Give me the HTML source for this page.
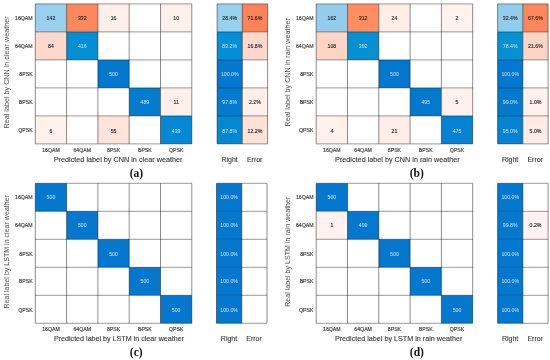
<!DOCTYPE html>
<html><head><meta charset="utf-8"><style>
html,body{margin:0;padding:0;background:#fff;}
body{width:550px;height:360px;overflow:hidden;}
svg{display:block;filter:blur(0.3px);}
text{font-family:"Liberation Sans",Arial,sans-serif;}
.v{font-size:5.2px;text-anchor:middle;fill:#262626;stroke:#262626;stroke-width:0.12px;}
.w{fill:#cde6fa;stroke:none;}
.ty{font-size:5.2px;text-anchor:end;fill:#444;stroke:#444;stroke-width:0.18px;}
.tx{font-size:5.2px;text-anchor:middle;fill:#444;stroke:#444;stroke-width:0.18px;}
.xl{font-size:7.2px;fill:#3a3a3a;stroke:#3a3a3a;stroke-width:0.12px;}
.yl{text-anchor:middle;}
.rl{fill:#505050;stroke:none;}
.re{font-size:7.0px;}
.tag{font-family:"Liberation Serif",serif;font-weight:bold;font-size:11.5px;text-anchor:middle;fill:#111;}
.gv{stroke:rgba(0,0,0,0.45);stroke-width:1;}
.gh{stroke:rgba(0,0,0,0.4);stroke-width:1;}
</style></head><body>
<svg width="550" height="360" viewBox="0 0 550 360">
<rect width="550" height="360" fill="#fff"/>
<rect x="35.30" y="3.90" width="31.30" height="28.00" fill="rgb(152,208,237)"/>
<rect x="66.60" y="3.90" width="31.30" height="28.00" fill="rgb(253,136,94)"/>
<rect x="97.90" y="3.90" width="31.30" height="28.00" fill="rgb(255,239,234)"/>
<rect x="160.50" y="3.90" width="31.30" height="28.00" fill="rgb(255,240,236)"/>
<rect x="35.30" y="31.90" width="31.30" height="28.00" fill="rgb(254,217,203)"/>
<rect x="66.60" y="31.90" width="31.30" height="28.00" fill="rgb(3,143,213)"/>
<rect x="97.90" y="59.90" width="31.30" height="28.00" fill="rgb(3,120,206)"/>
<rect x="129.20" y="87.90" width="31.30" height="28.00" fill="rgb(3,123,207)"/>
<rect x="160.50" y="87.90" width="31.30" height="28.00" fill="rgb(255,240,236)"/>
<rect x="35.30" y="115.90" width="31.30" height="28.00" fill="rgb(255,241,237)"/>
<rect x="97.90" y="115.90" width="31.30" height="28.00" fill="rgb(254,228,218)"/>
<rect x="160.50" y="115.90" width="31.30" height="28.00" fill="rgb(5,136,211)"/>
<rect x="217.10" y="3.90" width="25.25" height="28.00" fill="rgb(152,208,237)"/>
<rect x="242.35" y="3.90" width="25.25" height="28.00" fill="rgb(252,130,87)"/>
<rect x="217.10" y="31.90" width="25.25" height="28.00" fill="rgb(3,143,213)"/>
<rect x="242.35" y="31.90" width="25.25" height="28.00" fill="rgb(254,217,203)"/>
<rect x="217.10" y="59.90" width="25.25" height="28.00" fill="rgb(3,120,206)"/>
<rect x="217.10" y="87.90" width="25.25" height="28.00" fill="rgb(3,123,207)"/>
<rect x="242.35" y="87.90" width="25.25" height="28.00" fill="rgb(255,240,236)"/>
<rect x="217.10" y="115.90" width="25.25" height="28.00" fill="rgb(5,136,211)"/>
<rect x="242.35" y="115.90" width="25.25" height="28.00" fill="rgb(254,226,215)"/>
<line x1="35.30" y1="3.90" x2="35.30" y2="143.90" class="gv"/>
<line x1="35.30" y1="3.90" x2="191.80" y2="3.90" class="gh"/>
<line x1="66.60" y1="3.90" x2="66.60" y2="143.90" class="gv"/>
<line x1="35.30" y1="31.90" x2="191.80" y2="31.90" class="gh"/>
<line x1="97.90" y1="3.90" x2="97.90" y2="143.90" class="gv"/>
<line x1="35.30" y1="59.90" x2="191.80" y2="59.90" class="gh"/>
<line x1="129.20" y1="3.90" x2="129.20" y2="143.90" class="gv"/>
<line x1="35.30" y1="87.90" x2="191.80" y2="87.90" class="gh"/>
<line x1="160.50" y1="3.90" x2="160.50" y2="143.90" class="gv"/>
<line x1="35.30" y1="115.90" x2="191.80" y2="115.90" class="gh"/>
<line x1="191.80" y1="3.90" x2="191.80" y2="143.90" class="gv"/>
<line x1="35.30" y1="143.90" x2="191.80" y2="143.90" class="gh"/>
<line x1="217.10" y1="3.90" x2="217.10" y2="143.90" class="gv"/>
<line x1="242.35" y1="3.90" x2="242.35" y2="143.90" class="gv"/>
<line x1="267.60" y1="3.90" x2="267.60" y2="143.90" class="gv"/>
<line x1="217.10" y1="3.90" x2="267.60" y2="3.90" class="gh"/>
<line x1="217.10" y1="31.90" x2="267.60" y2="31.90" class="gh"/>
<line x1="217.10" y1="59.90" x2="267.60" y2="59.90" class="gh"/>
<line x1="217.10" y1="87.90" x2="267.60" y2="87.90" class="gh"/>
<line x1="217.10" y1="115.90" x2="267.60" y2="115.90" class="gh"/>
<line x1="217.10" y1="143.90" x2="267.60" y2="143.90" class="gh"/>
<text x="50.95" y="19.95" class="v">142</text>
<text x="82.25" y="19.95" class="v">332</text>
<text x="113.55" y="19.95" class="v">16</text>
<text x="176.15" y="19.95" class="v">10</text>
<text x="50.95" y="47.70" class="v">84</text>
<text x="82.25" y="47.70" class="v w">416</text>
<text x="113.55" y="76.30" class="v w">500</text>
<text x="144.85" y="104.05" class="v w">489</text>
<text x="176.15" y="104.05" class="v">11</text>
<text x="50.95" y="132.55" class="v">6</text>
<text x="113.55" y="132.55" class="v">55</text>
<text x="176.15" y="132.55" class="v w">439</text>
<text x="229.72" y="19.95" class="v">28.4%</text>
<text x="254.97" y="19.95" class="v">71.6%</text>
<text x="229.72" y="47.70" class="v w">83.2%</text>
<text x="254.97" y="47.70" class="v">16.8%</text>
<text x="229.72" y="76.30" class="v w">100.0%</text>
<text x="229.72" y="104.05" class="v w">97.8%</text>
<text x="254.97" y="104.05" class="v">2.2%</text>
<text x="229.72" y="132.55" class="v w">87.8%</text>
<text x="254.97" y="132.55" class="v">12.2%</text>
<text x="32.60" y="19.95" class="ty">16QAM</text>
<text x="50.95" y="151.80" class="tx">16QAM</text>
<text x="32.60" y="47.80" class="ty">64QAM</text>
<text x="82.25" y="151.80" class="tx">64QAM</text>
<text x="32.60" y="76.20" class="ty">8PSK</text>
<text x="113.55" y="151.80" class="tx">8PSK</text>
<text x="32.60" y="104.05" class="ty">BPSK</text>
<text x="144.85" y="151.80" class="tx">BPSK</text>
<text x="32.60" y="132.25" class="ty">QPSK</text>
<text x="176.15" y="151.80" class="tx">QPSK</text>
<text x="53.70" y="161.70" class="xl" style="font-size:7.270px">Predicted label by CNN in clear weather</text>
<text transform="translate(8.60 72.45) rotate(-90)" class="xl yl rl" style="font-size:7.216px">Real label by CNN in clear weather</text>
<text x="229.62" y="162.00" class="xl yl re">Right</text>
<text x="254.67" y="162.00" class="xl yl re">Error</text>
<text x="136.40" y="177.40" class="tag">(a)</text>
<rect x="316.20" y="3.90" width="31.30" height="28.00" fill="rgb(148,205,235)"/>
<rect x="347.50" y="3.90" width="31.30" height="28.00" fill="rgb(254,141,98)"/>
<rect x="378.80" y="3.90" width="31.30" height="28.00" fill="rgb(255,237,230)"/>
<rect x="441.40" y="3.90" width="31.30" height="28.00" fill="rgb(255,242,239)"/>
<rect x="316.20" y="31.90" width="31.30" height="28.00" fill="rgb(254,212,197)"/>
<rect x="347.50" y="31.90" width="31.30" height="28.00" fill="rgb(5,144,209)"/>
<rect x="378.80" y="59.90" width="31.30" height="28.00" fill="rgb(3,120,206)"/>
<rect x="410.10" y="87.90" width="31.30" height="28.00" fill="rgb(3,121,206)"/>
<rect x="441.40" y="87.90" width="31.30" height="28.00" fill="rgb(255,241,238)"/>
<rect x="316.20" y="115.90" width="31.30" height="28.00" fill="rgb(255,242,238)"/>
<rect x="378.80" y="115.90" width="31.30" height="28.00" fill="rgb(255,237,232)"/>
<rect x="441.40" y="115.90" width="31.30" height="28.00" fill="rgb(5,131,210)"/>
<rect x="497.60" y="3.90" width="25.25" height="28.00" fill="rgb(148,205,235)"/>
<rect x="522.85" y="3.90" width="25.25" height="28.00" fill="rgb(253,135,92)"/>
<rect x="497.60" y="31.90" width="25.25" height="28.00" fill="rgb(5,144,209)"/>
<rect x="522.85" y="31.90" width="25.25" height="28.00" fill="rgb(254,212,197)"/>
<rect x="497.60" y="59.90" width="25.25" height="28.00" fill="rgb(3,120,206)"/>
<rect x="497.60" y="87.90" width="25.25" height="28.00" fill="rgb(3,121,206)"/>
<rect x="522.85" y="87.90" width="25.25" height="28.00" fill="rgb(255,241,238)"/>
<rect x="497.60" y="115.90" width="25.25" height="28.00" fill="rgb(5,131,210)"/>
<rect x="522.85" y="115.90" width="25.25" height="28.00" fill="rgb(255,236,230)"/>
<line x1="316.20" y1="3.90" x2="316.20" y2="143.90" class="gv"/>
<line x1="316.20" y1="3.90" x2="472.70" y2="3.90" class="gh"/>
<line x1="347.50" y1="3.90" x2="347.50" y2="143.90" class="gv"/>
<line x1="316.20" y1="31.90" x2="472.70" y2="31.90" class="gh"/>
<line x1="378.80" y1="3.90" x2="378.80" y2="143.90" class="gv"/>
<line x1="316.20" y1="59.90" x2="472.70" y2="59.90" class="gh"/>
<line x1="410.10" y1="3.90" x2="410.10" y2="143.90" class="gv"/>
<line x1="316.20" y1="87.90" x2="472.70" y2="87.90" class="gh"/>
<line x1="441.40" y1="3.90" x2="441.40" y2="143.90" class="gv"/>
<line x1="316.20" y1="115.90" x2="472.70" y2="115.90" class="gh"/>
<line x1="472.70" y1="3.90" x2="472.70" y2="143.90" class="gv"/>
<line x1="316.20" y1="143.90" x2="472.70" y2="143.90" class="gh"/>
<line x1="497.60" y1="3.90" x2="497.60" y2="143.90" class="gv"/>
<line x1="522.85" y1="3.90" x2="522.85" y2="143.90" class="gv"/>
<line x1="548.10" y1="3.90" x2="548.10" y2="143.90" class="gv"/>
<line x1="497.60" y1="3.90" x2="548.10" y2="3.90" class="gh"/>
<line x1="497.60" y1="31.90" x2="548.10" y2="31.90" class="gh"/>
<line x1="497.60" y1="59.90" x2="548.10" y2="59.90" class="gh"/>
<line x1="497.60" y1="87.90" x2="548.10" y2="87.90" class="gh"/>
<line x1="497.60" y1="115.90" x2="548.10" y2="115.90" class="gh"/>
<line x1="497.60" y1="143.90" x2="548.10" y2="143.90" class="gh"/>
<text x="331.85" y="19.95" class="v">162</text>
<text x="363.15" y="19.95" class="v">312</text>
<text x="394.45" y="19.95" class="v">24</text>
<text x="457.05" y="19.95" class="v">2</text>
<text x="331.85" y="47.70" class="v">108</text>
<text x="363.15" y="47.70" class="v w">392</text>
<text x="394.45" y="76.30" class="v w">500</text>
<text x="425.75" y="104.05" class="v w">495</text>
<text x="457.05" y="104.05" class="v">5</text>
<text x="331.85" y="132.55" class="v">4</text>
<text x="394.45" y="132.55" class="v">21</text>
<text x="457.05" y="132.55" class="v w">475</text>
<text x="510.23" y="19.95" class="v">32.4%</text>
<text x="535.48" y="19.95" class="v">67.6%</text>
<text x="510.23" y="47.70" class="v w">78.4%</text>
<text x="535.48" y="47.70" class="v">21.6%</text>
<text x="510.23" y="76.30" class="v w">100.0%</text>
<text x="510.23" y="104.05" class="v w">99.0%</text>
<text x="535.48" y="104.05" class="v">1.0%</text>
<text x="510.23" y="132.55" class="v w">95.0%</text>
<text x="535.48" y="132.55" class="v">5.0%</text>
<text x="313.50" y="19.95" class="ty">16QAM</text>
<text x="331.85" y="151.80" class="tx">16QAM</text>
<text x="313.50" y="47.80" class="ty">64QAM</text>
<text x="363.15" y="151.80" class="tx">64QAM</text>
<text x="313.50" y="76.20" class="ty">8PSK</text>
<text x="394.45" y="151.80" class="tx">8PSK</text>
<text x="313.50" y="104.05" class="ty">BPSK</text>
<text x="425.75" y="151.80" class="tx">BPSK</text>
<text x="313.50" y="132.25" class="ty">QPSK</text>
<text x="457.05" y="151.80" class="tx">QPSK</text>
<text x="335.10" y="161.70" class="xl" style="font-size:7.243px">Predicted label by CNN in rain weather</text>
<text transform="translate(289.60 72.25) rotate(-90)" class="xl yl rl" style="font-size:7.216px">Real label by CNN in rain weather</text>
<text x="510.12" y="162.00" class="xl yl re">Right</text>
<text x="535.18" y="162.00" class="xl yl re">Error</text>
<text x="416.75" y="177.40" class="tag">(b)</text>
<rect x="35.30" y="183.30" width="31.30" height="28.00" fill="rgb(3,120,206)"/>
<rect x="66.60" y="211.30" width="31.30" height="28.00" fill="rgb(3,120,206)"/>
<rect x="97.90" y="239.30" width="31.30" height="28.00" fill="rgb(3,120,206)"/>
<rect x="129.20" y="267.30" width="31.30" height="28.00" fill="rgb(3,120,206)"/>
<rect x="160.50" y="295.30" width="31.30" height="28.00" fill="rgb(3,120,206)"/>
<rect x="216.50" y="183.30" width="25.25" height="28.00" fill="rgb(3,120,206)"/>
<rect x="216.50" y="211.30" width="25.25" height="28.00" fill="rgb(3,120,206)"/>
<rect x="216.50" y="239.30" width="25.25" height="28.00" fill="rgb(3,120,206)"/>
<rect x="216.50" y="267.30" width="25.25" height="28.00" fill="rgb(3,120,206)"/>
<rect x="216.50" y="295.30" width="25.25" height="28.00" fill="rgb(3,120,206)"/>
<line x1="35.30" y1="183.30" x2="35.30" y2="323.30" class="gv"/>
<line x1="35.30" y1="183.30" x2="191.80" y2="183.30" class="gh"/>
<line x1="66.60" y1="183.30" x2="66.60" y2="323.30" class="gv"/>
<line x1="35.30" y1="211.30" x2="191.80" y2="211.30" class="gh"/>
<line x1="97.90" y1="183.30" x2="97.90" y2="323.30" class="gv"/>
<line x1="35.30" y1="239.30" x2="191.80" y2="239.30" class="gh"/>
<line x1="129.20" y1="183.30" x2="129.20" y2="323.30" class="gv"/>
<line x1="35.30" y1="267.30" x2="191.80" y2="267.30" class="gh"/>
<line x1="160.50" y1="183.30" x2="160.50" y2="323.30" class="gv"/>
<line x1="35.30" y1="295.30" x2="191.80" y2="295.30" class="gh"/>
<line x1="191.80" y1="183.30" x2="191.80" y2="323.30" class="gv"/>
<line x1="35.30" y1="323.30" x2="191.80" y2="323.30" class="gh"/>
<line x1="216.50" y1="183.30" x2="216.50" y2="323.30" class="gv"/>
<line x1="241.75" y1="183.30" x2="241.75" y2="323.30" class="gv"/>
<line x1="267.00" y1="183.30" x2="267.00" y2="323.30" class="gv"/>
<line x1="216.50" y1="183.30" x2="267.00" y2="183.30" class="gh"/>
<line x1="216.50" y1="211.30" x2="267.00" y2="211.30" class="gh"/>
<line x1="216.50" y1="239.30" x2="267.00" y2="239.30" class="gh"/>
<line x1="216.50" y1="267.30" x2="267.00" y2="267.30" class="gh"/>
<line x1="216.50" y1="295.30" x2="267.00" y2="295.30" class="gh"/>
<line x1="216.50" y1="323.30" x2="267.00" y2="323.30" class="gh"/>
<text x="50.95" y="199.35" class="v w">500</text>
<text x="82.25" y="227.10" class="v w">500</text>
<text x="113.55" y="255.70" class="v w">500</text>
<text x="144.85" y="283.45" class="v w">500</text>
<text x="176.15" y="311.95" class="v w">500</text>
<text x="229.12" y="199.35" class="v w">100.0%</text>
<text x="229.12" y="227.10" class="v w">100.0%</text>
<text x="229.12" y="255.70" class="v w">100.0%</text>
<text x="229.12" y="283.45" class="v w">100.0%</text>
<text x="229.12" y="311.95" class="v w">100.0%</text>
<text x="32.60" y="199.35" class="ty">16QAM</text>
<text x="50.95" y="330.80" class="tx">16QAM</text>
<text x="32.60" y="227.20" class="ty">64QAM</text>
<text x="82.25" y="330.80" class="tx">64QAM</text>
<text x="32.60" y="255.60" class="ty">8PSK</text>
<text x="113.55" y="330.80" class="tx">8PSK</text>
<text x="32.60" y="283.45" class="ty">BPSK</text>
<text x="144.85" y="330.80" class="tx">BPSK</text>
<text x="32.60" y="311.65" class="ty">QPSK</text>
<text x="176.15" y="330.80" class="tx">QPSK</text>
<text x="53.90" y="340.60" class="xl" style="font-size:7.153px">Predicted label by LSTM in clear weather</text>
<text transform="translate(8.60 251.75) rotate(-90)" class="xl yl rl" style="font-size:7.078px">Real label by LSTM in clear weather</text>
<text x="229.03" y="340.68" class="xl yl re">Right</text>
<text x="254.07" y="340.68" class="xl yl re">Error</text>
<text x="136.25" y="355.90" class="tag">(c)</text>
<rect x="316.20" y="183.30" width="31.30" height="28.00" fill="rgb(3,120,206)"/>
<rect x="316.20" y="211.30" width="31.30" height="28.00" fill="rgb(255,242,240)"/>
<rect x="347.50" y="211.30" width="31.30" height="28.00" fill="rgb(3,120,206)"/>
<rect x="378.80" y="239.30" width="31.30" height="28.00" fill="rgb(3,120,206)"/>
<rect x="410.10" y="267.30" width="31.30" height="28.00" fill="rgb(3,120,206)"/>
<rect x="441.40" y="295.30" width="31.30" height="28.00" fill="rgb(3,120,206)"/>
<rect x="497.60" y="183.30" width="25.25" height="28.00" fill="rgb(3,120,206)"/>
<rect x="497.60" y="211.30" width="25.25" height="28.00" fill="rgb(3,120,206)"/>
<rect x="522.85" y="211.30" width="25.25" height="28.00" fill="rgb(255,242,240)"/>
<rect x="497.60" y="239.30" width="25.25" height="28.00" fill="rgb(3,120,206)"/>
<rect x="497.60" y="267.30" width="25.25" height="28.00" fill="rgb(3,120,206)"/>
<rect x="497.60" y="295.30" width="25.25" height="28.00" fill="rgb(3,120,206)"/>
<line x1="316.20" y1="183.30" x2="316.20" y2="323.30" class="gv"/>
<line x1="316.20" y1="183.30" x2="472.70" y2="183.30" class="gh"/>
<line x1="347.50" y1="183.30" x2="347.50" y2="323.30" class="gv"/>
<line x1="316.20" y1="211.30" x2="472.70" y2="211.30" class="gh"/>
<line x1="378.80" y1="183.30" x2="378.80" y2="323.30" class="gv"/>
<line x1="316.20" y1="239.30" x2="472.70" y2="239.30" class="gh"/>
<line x1="410.10" y1="183.30" x2="410.10" y2="323.30" class="gv"/>
<line x1="316.20" y1="267.30" x2="472.70" y2="267.30" class="gh"/>
<line x1="441.40" y1="183.30" x2="441.40" y2="323.30" class="gv"/>
<line x1="316.20" y1="295.30" x2="472.70" y2="295.30" class="gh"/>
<line x1="472.70" y1="183.30" x2="472.70" y2="323.30" class="gv"/>
<line x1="316.20" y1="323.30" x2="472.70" y2="323.30" class="gh"/>
<line x1="497.60" y1="183.30" x2="497.60" y2="323.30" class="gv"/>
<line x1="522.85" y1="183.30" x2="522.85" y2="323.30" class="gv"/>
<line x1="548.10" y1="183.30" x2="548.10" y2="323.30" class="gv"/>
<line x1="497.60" y1="183.30" x2="548.10" y2="183.30" class="gh"/>
<line x1="497.60" y1="211.30" x2="548.10" y2="211.30" class="gh"/>
<line x1="497.60" y1="239.30" x2="548.10" y2="239.30" class="gh"/>
<line x1="497.60" y1="267.30" x2="548.10" y2="267.30" class="gh"/>
<line x1="497.60" y1="295.30" x2="548.10" y2="295.30" class="gh"/>
<line x1="497.60" y1="323.30" x2="548.10" y2="323.30" class="gh"/>
<text x="331.85" y="199.35" class="v w">500</text>
<text x="331.85" y="227.10" class="v">1</text>
<text x="363.15" y="227.10" class="v w">499</text>
<text x="394.45" y="255.70" class="v w">500</text>
<text x="425.75" y="283.45" class="v w">500</text>
<text x="457.05" y="311.95" class="v w">500</text>
<text x="510.23" y="199.35" class="v w">100.0%</text>
<text x="510.23" y="227.10" class="v w">99.8%</text>
<text x="535.48" y="227.10" class="v">0.2%</text>
<text x="510.23" y="255.70" class="v w">100.0%</text>
<text x="510.23" y="283.45" class="v w">100.0%</text>
<text x="510.23" y="311.95" class="v w">100.0%</text>
<text x="313.50" y="199.35" class="ty">16QAM</text>
<text x="331.85" y="330.80" class="tx">16QAM</text>
<text x="313.50" y="227.20" class="ty">64QAM</text>
<text x="363.15" y="330.80" class="tx">64QAM</text>
<text x="313.50" y="255.60" class="ty">8PSK</text>
<text x="394.45" y="330.80" class="tx">8PSK</text>
<text x="313.50" y="283.45" class="ty">BPSK</text>
<text x="425.75" y="330.80" class="tx">BPSK</text>
<text x="313.50" y="311.65" class="ty">QPSK</text>
<text x="457.05" y="330.80" class="tx">QPSK</text>
<text x="334.90" y="340.60" class="xl" style="font-size:7.196px">Predicted label by LSTM in rain weather</text>
<text transform="translate(289.60 251.75) rotate(-90)" class="xl yl rl" style="font-size:7.087px">Real label by LSTM in rain weather</text>
<text x="510.12" y="340.68" class="xl yl re">Right</text>
<text x="535.18" y="340.68" class="xl yl re">Error</text>
<text x="416.90" y="355.90" class="tag">(d)</text>
</svg>
</body></html>
